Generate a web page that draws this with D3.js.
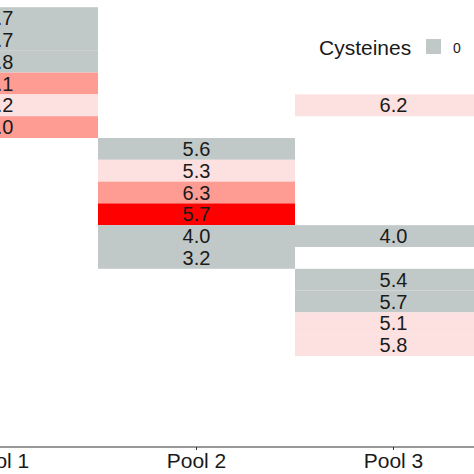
<!DOCTYPE html>
<html>
<head>
<meta charset="utf-8">
<script src="https://cdn.jsdelivr.net/npm/d3@7"></script>
<style>
  body { margin: 0; background: #fff; }
  svg { display: block; font-family: "Liberation Sans", Arial, sans-serif; }
  .tile-label { font-size: 20px; fill: #1a1a1a; text-anchor: middle; }
  .axis text { font-size: 21px; fill: #1a1a1a; }
  .axis path, .axis line { stroke: #333; }
</style>
</head>
<body>
<div id="chart"></div>
<script>
// pools shown along x (Pool 1 is cut off at the left edge of the crop)
var pools = ["Pool 1", "Pool 2", "Pool 3"];

// one entry per tile: pool, row, value label, number of cysteines
var tilePool  = ["Pool 1","Pool 1","Pool 1","Pool 1","Pool 1","Pool 1",
                 "Pool 2","Pool 2","Pool 2","Pool 2","Pool 2","Pool 2",
                 "Pool 3","Pool 3","Pool 3","Pool 3","Pool 3","Pool 3"];
var tileRow   = [0, 1, 2, 3, 4, 5,
                 6, 7, 8, 9, 10, 11,
                 4, 10, 12, 13, 14, 15];
var tileValue = ["5.7","4.7","5.8","6.1","5.2","6.0",
                 "5.6","5.3","6.3","5.7","4.0","3.2",
                 "6.2","4.0","5.4","5.7","5.1","5.8"];
var tileCys   = [0, 0, 0, 2, 1, 2,
                 0, 1, 2, 3, 0, 0,
                 1, 0, 0, 0, 1, 1];

var rows = d3.range(16);
var cysLevels = [0, 1, 2, 3];
var cysColors = ["#c1c9c8", "#fde0e0", "#fe9b93", "#ff0000"];
var legendShown = [0];

var width = 474, height = 474;
var axisY = 447;

var tiles = tilePool.map(function(p, i) {
  return { pool: p, row: tileRow[i], value: tileValue[i], cys: tileCys[i] };
});

var x = d3.scaleBand().domain(pools).range([-99, 492]).padding(0);
var y = d3.scaleBand().domain(rows).range([7.2, 7.2 + rows.length * 21.8]).padding(0);
var color = d3.scaleOrdinal().domain(cysLevels).range(cysColors);

var svg = d3.select("#chart").append("svg")
  .attr("width", width)
  .attr("height", height);

var g = svg.append("g").attr("class", "tiles");

g.selectAll("rect")
  .data(tiles)
  .enter().append("rect")
  .attr("x", function(d) { return x(d.pool); })
  .attr("y", function(d) { return y(d.row); })
  .attr("width", x.bandwidth())
  .attr("height", y.bandwidth())
  .attr("fill", function(d) { return color(d.cys); });

g.selectAll("text")
  .data(tiles)
  .enter().append("text")
  .attr("class", "tile-label")
  .attr("x", function(d) { return x(d.pool) + x.bandwidth() / 2; })
  .attr("y", function(d) { return y(d.row) + y.bandwidth() / 2 + 7; })
  .text(function(d) { return d.value; });

// x axis
var axis = svg.append("g")
  .attr("class", "axis")
  .attr("transform", "translate(0," + axisY + ")")
  .call(d3.axisBottom(x).tickSize(3).tickPadding(3).tickSizeOuter(0));
axis.select(".domain").attr("d", "M0,0H" + width).attr("stroke-width", 1.2);

// legend (only the first key fits inside the crop)
var legend = svg.append("g").attr("class", "legend");
legend.append("text")
  .attr("x", 319).attr("y", 55)
  .style("font-size", "21px").attr("fill", "#1a1a1a")
  .text("Cysteines");

var key = legend.selectAll("g.key")
  .data(legendShown)
  .enter().append("g")
  .attr("class", "key")
  .attr("transform", function(d, i) { return "translate(" + (426 + i * 40) + ",39)"; });
key.append("rect")
  .attr("width", 15).attr("height", 15)
  .attr("fill", function(d) { return color(d); });
key.append("text")
  .attr("x", 27).attr("y", 14)
  .style("font-size", "14px").attr("fill", "#1a1a1a")
  .text(function(d) { return d; });
</script>
</body>
</html>
